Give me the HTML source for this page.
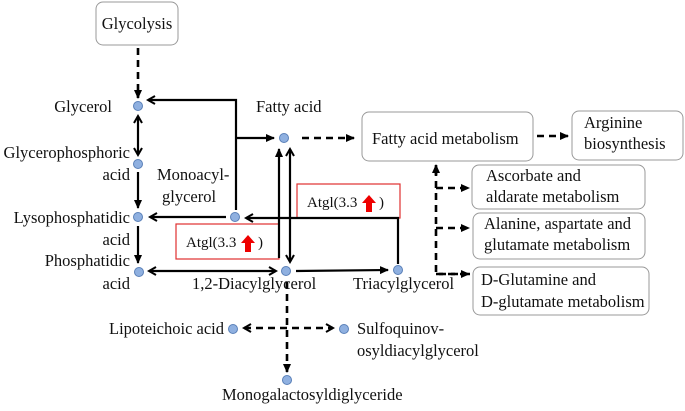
<!DOCTYPE html>
<html><head><meta charset="utf-8"><style>
body{margin:0;background:#fff}
svg text{font-family:"Liberation Serif","DejaVu Serif",serif;font-size:16.5px;fill:#111}
svg text.s{font-size:15px}
</style></head><body>
<svg width="685" height="406" viewBox="0 0 685 406" xmlns="http://www.w3.org/2000/svg" font-family="Liberation Serif, DejaVu Serif, serif">
<defs>
<marker id="a" markerWidth="10" markerHeight="10" refX="8" refY="5" orient="auto-start-reverse" markerUnits="userSpaceOnUse"><path d="M1,1 L8,5 L1,9" fill="none" stroke="#000" stroke-width="2"/></marker>
<marker id="t" markerWidth="10" markerHeight="10" refX="8" refY="5" orient="auto" markerUnits="userSpaceOnUse"><path d="M0,1 L9,5 L0,9 Z" fill="#000"/></marker>
</defs>
<g fill="#fff" stroke="#999" stroke-width="1">
<rect x="96" y="2" width="82" height="43" rx="7"/>
<rect x="362" y="112" width="171" height="49" rx="7"/>
<rect x="572" y="111" width="111" height="49" rx="7"/>
<rect x="472" y="165" width="173" height="44" rx="7"/>
<rect x="473" y="213" width="172" height="46" rx="7"/>
<rect x="473" y="267" width="176" height="48" rx="7"/>
</g>
<g fill="#fff" stroke="#e03030" stroke-width="1.2">
<rect x="176" y="224" width="103" height="35"/>
<rect x="297" y="184" width="103" height="34"/>
</g>
<g stroke="#000" stroke-width="2.2" fill="none">
<line x1="138" y1="116" x2="138" y2="155" marker-start="url(#a)" marker-end="url(#a)"/>
<line x1="138" y1="172" x2="138" y2="208" marker-end="url(#t)"/>
<line x1="138" y1="226" x2="138" y2="263" marker-end="url(#t)"/>
<line x1="149" y1="271" x2="276" y2="271" marker-start="url(#a)" marker-end="url(#a)"/>
<line x1="296" y1="271" x2="388" y2="270" marker-end="url(#t)"/>
<line x1="226" y1="217" x2="150" y2="217" marker-end="url(#a)"/>
<polyline points="236,210 236,100 148,100" marker-end="url(#a)"/>
<line x1="236" y1="138" x2="274" y2="138" marker-end="url(#t)"/>
<polyline points="398,264 398,218 279,218"/>
<line x1="279" y1="218" x2="246" y2="218" marker-end="url(#a)"/>
<line x1="279" y1="258" x2="279" y2="149" marker-end="url(#t)"/>
<line x1="290" y1="149" x2="290" y2="262" marker-start="url(#a)" marker-end="url(#a)"/>
</g>
<g stroke="#000" stroke-width="2.6" fill="none" stroke-dasharray="7,5">
<line x1="138" y1="48" x2="138" y2="98" marker-end="url(#t)"/>
<line x1="302" y1="138" x2="354" y2="138" marker-end="url(#t)"/>
<line x1="537" y1="136" x2="568" y2="136" marker-end="url(#t)"/>
<polyline points="470,274 436,274 436,168"/>
<line x1="436" y1="175" x2="436" y2="165" marker-end="url(#t)" stroke-dasharray="none"/>
<line x1="436" y1="188" x2="469" y2="188" marker-end="url(#t)"/>
<line x1="436" y1="228" x2="469" y2="228" marker-end="url(#t)"/>
<line x1="436" y1="274" x2="469" y2="274" marker-end="url(#t)"/>
<line x1="287" y1="282" x2="287" y2="372" marker-end="url(#t)"/>
<line x1="244" y1="328" x2="333" y2="328" marker-start="url(#a)" marker-end="url(#a)"/>
</g>
<g fill="#8fb0e0" stroke="#5a80b8" stroke-width="1">
<circle cx="138" cy="106" r="4.5"/><circle cx="138" cy="164" r="4.5"/>
<circle cx="138" cy="217" r="4.5"/><circle cx="139" cy="272" r="4.5"/>
<circle cx="235" cy="217" r="4.5"/><circle cx="284" cy="138" r="4.5"/>
<circle cx="286" cy="271" r="4.5"/><circle cx="398" cy="270" r="4.5"/>
<circle cx="233" cy="329" r="4.5"/><circle cx="344" cy="329" r="4.5"/>
<circle cx="287" cy="380" r="4.5"/>
</g>
<text x="137" y="29" text-anchor="middle">Glycolysis</text>
<text x="112" y="112" text-anchor="end">Glycerol</text>
<text x="256" y="112">Fatty acid</text>
<text x="130" y="158" text-anchor="end">Glycerophosphoric</text>
<text x="130" y="180" text-anchor="end">acid</text>
<text x="157" y="180">Monoacyl-</text>
<text x="162" y="202">glycerol</text>
<text x="130" y="223" text-anchor="end">Lysophosphatidic</text>
<text x="130" y="245" text-anchor="end">acid</text>
<text x="130" y="266" text-anchor="end">Phosphatidic</text>
<text x="130" y="289" text-anchor="end">acid</text>
<text x="192" y="289">1,2-Diacylglycerol</text>
<text x="353" y="289">Triacylglycerol</text>
<text x="224" y="334" text-anchor="end">Lipoteichoic acid</text>
<text x="357" y="334">Sulfoquinov-</text>
<text x="357" y="356">osyldiacylglycerol</text>
<text x="222" y="400">Monogalactosyldiglyceride</text>
<text class="s" x="186" y="247">Atgl(3.3</text><text class="s" x="258" y="247">)</text>
<path d="M248,235 L255,243 L251,243 L251,252 L245,252 L245,243 L241,243 Z" fill="#e00"/>
<text class="s" x="307" y="207">Atgl(3.3</text><text class="s" x="379" y="207">)</text>
<path d="M369,195 L376,203 L372,203 L372,212 L366,212 L366,203 L362,203 Z" fill="#e00"/>
<text x="372" y="144">Fatty acid metabolism</text>
<text x="584" y="128">Arginine</text>
<text x="584" y="149">biosynthesis</text>
<text x="486" y="181">Ascorbate and</text>
<text x="486" y="202">aldarate metabolism</text>
<text x="484" y="229">Alanine, aspartate and</text>
<text x="484" y="250">glutamate metabolism</text>
<text x="481" y="285">D-Glutamine and</text>
<text x="481" y="307">D-glutamate metabolism</text>
</svg>
</body></html>
